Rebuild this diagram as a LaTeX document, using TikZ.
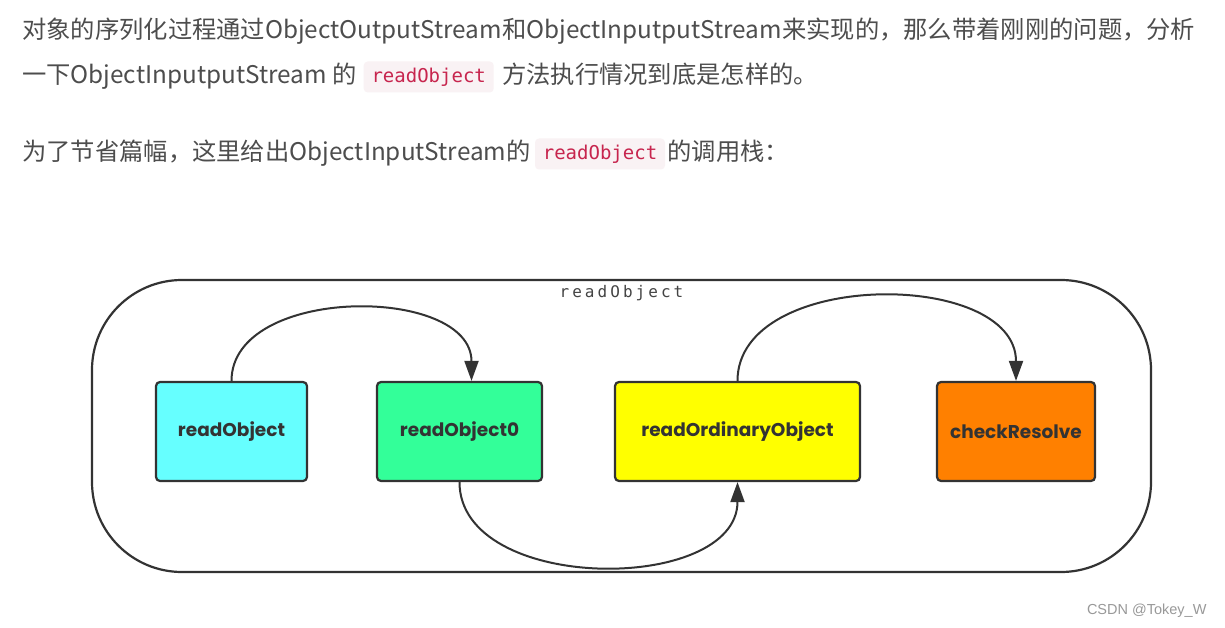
\documentclass[tikz,border=0pt]{standalone}
\usepackage{fontspec}
\setmainfont{Noto Sans CJK SC}
\newfontfamily\cjk{Noto Sans CJK SC}
\newfontfamily\codefont{DejaVu Sans Mono}
\newfontfamily\labelfont[LetterSpace=19]{DejaVu Sans Mono}
\newfontfamily\boxfont{Poppins}
\newfontfamily\markfont{Liberation Sans}
\usepackage{tikz}
\usetikzlibrary{positioning}
\usetikzlibrary{arrows.meta}
\usepackage{xcolor}

\definecolor{textgray}{HTML}{4D4D4D}
\definecolor{codered}{HTML}{C7254E}
\definecolor{codebg}{HTML}{F9F2F4}
\definecolor{edgegray}{HTML}{333333}
\definecolor{labelgray}{HTML}{444444}
\definecolor{markgray}{HTML}{999999}
\definecolor{cyanfill}{HTML}{66FFFF}
\definecolor{greenfill}{HTML}{33FF99}
\definecolor{yellowfill}{HTML}{FFFF00}
\definecolor{orangefill}{HTML}{FF8000}

\tikzset{
  para/.style={text=textgray, font=\cjk\fontsize{24.3}{28}\selectfont,
    inner sep=0pt, anchor=west, text height=19pt, text depth=5pt},
  code/.style={fill=codebg, text=codered, rounded corners=4pt,
    font=\codefont\fontsize{19}{22}\selectfont,
    minimum width=130, minimum height=31, inner sep=0pt},
  fnbox/.style={draw=edgegray, line width=2.2pt, rounded corners=4pt,
    minimum height=99, text=edgegray, font=\boxfont\bfseries\fontsize{18.5}{21}\selectfont},
  call/.style={draw=edgegray, line width=2pt, -{Triangle[length=20pt,width=14pt]}},
}

\begin{document}
\begin{tikzpicture}[x=1pt, y=-1pt]
  \fill[white] (0,0) rectangle (1225,628);
  \useasboundingbox (0,0) rectangle (1225,628);

  % text above the diagram
  \node[para] (line1) at (22,32) {对象的序列化过程通过ObjectOutputStream和ObjectInputputStream来实现的，那么带着刚刚的问题，分析};
  \node[para] (line2a) at (22,77) {一下ObjectInputputStream 的};
  \node[code, right=7pt of line2a] (code2) {readObject};
  \node[para, right=8pt of code2] (line2b) {方法执行情况到底是怎样的。};
  \node[para] (line3a) at (22,154) {为了节省篇幅，这里给出ObjectInputStream的};
  \node[code, right=4pt of line3a] (code3) {readObject};
  \node[para, right=2pt of code3] (line3b) {的调用栈：};

  % call stack
  \node[draw=edgegray, line width=2.2pt, rounded corners=90pt,
    minimum width=1059, minimum height=292] (frame) at (621.5,426) {};
  \node[text=labelgray, font=\labelfont\fontsize{16}{18}\selectfont,
    below=3pt of frame.north] (framelabel) {readObject};

  \node[fnbox, fill=cyanfill, minimum width=151] (readObj) at (231.5,431.5) {readObject};
  \node[fnbox, fill=greenfill, minimum width=165] (readObj0) at (459.5,431.5) {readObject0};
  \node[fnbox, fill=yellowfill, minimum width=245] (readOrd) at (737.5,431.5) {readOrdinaryObject};
  \node[fnbox, fill=orangefill, minimum width=158] (checkRes) at (1016,431.5) {checkResolve};

  \draw[call] (readObj.north) .. controls +(0,-96) and +(0,-96) .. ([xshift=12pt]readObj0.north);
  \draw[call] (readObj0.south) .. controls +(0,112) and +(0,112) .. (readOrd.south);
  \draw[call] (readOrd.north) .. controls +(0,-112) and +(0,-112) .. (checkRes.north);

  \node[font=\markfont\fontsize{14.5}{16}\selectfont, text=markgray, anchor=east] (mark) at (1210,611) {CSDN @Tokey\_W};
\end{tikzpicture}
\end{document}
